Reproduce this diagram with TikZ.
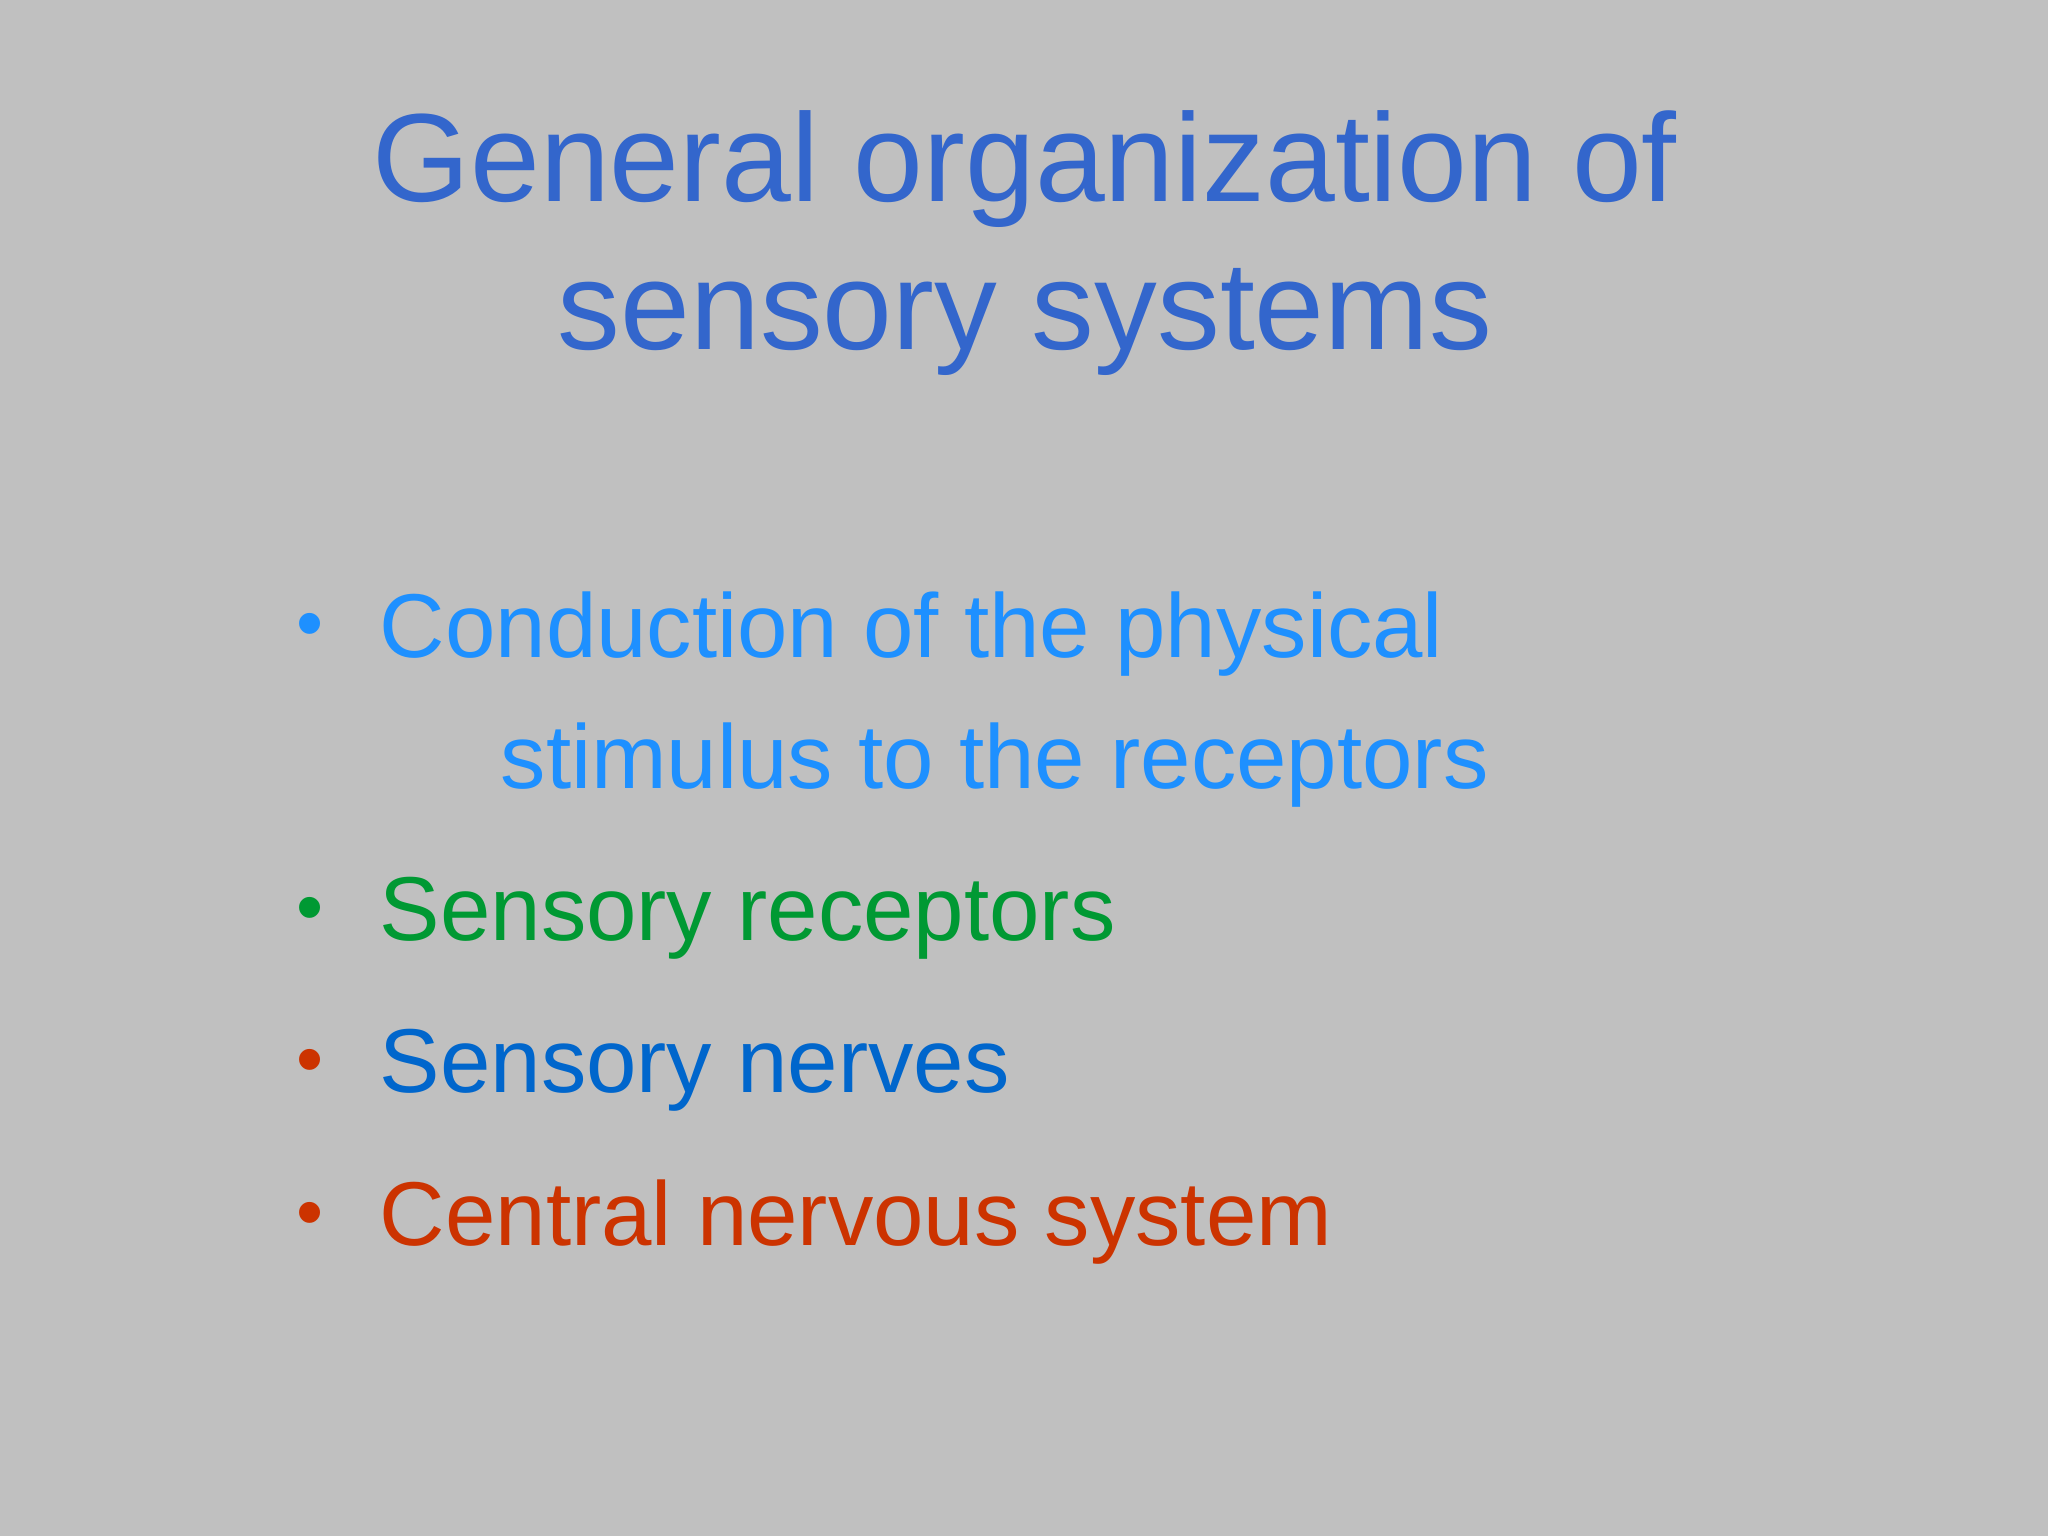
\documentclass[tikz,border=0pt]{standalone}
\usepackage{fontspec}
\setmainfont{Liberation Sans}
\definecolor{bg}{HTML}{C0C0C0}
\definecolor{titlec}{HTML}{3366CC}
\definecolor{lblue}{HTML}{1E90FF}
\definecolor{gr}{HTML}{009933}
\definecolor{dblue}{HTML}{0066CC}
\definecolor{rd}{HTML}{CC3300}
\begin{document}
\begin{tikzpicture}[
  title/.style={anchor=base,text=titlec,font=\fontsize{35.7}{42}\selectfont,inner sep=0},
  item/.style={anchor=base west,font=\fontsize{25.8}{30}\selectfont,inner sep=0},
  bul/.style={anchor=base,font=\fontsize{22}{26}\selectfont,inner sep=0}]
\fill[bg] (0,0) rectangle (20.48,-15.36);
\useasboundingbox (0,0) rectangle (20.48,-15.36);
\node[title] (t1) at (10.25,-2.02) {General organization of};
\node[title] (t2) at (10.25,-3.50) {sensory systems};
\node[bul,text=lblue] (b1) at (3.10,-6.50) {•};
\node[item,text=lblue] (i1) at (3.79,-6.57) {Conduction of the physical};
\node[item,text=lblue] (i1b) at (5.00,-7.88) {stimulus to the receptors};
\node[bul,text=gr] (b2) at (3.10,-9.33) {•};
\node[item,text=gr] (i2) at (3.79,-9.40) {Sensory receptors};
\node[bul,text=rd] (b3) at (3.10,-10.85) {•};
\node[item,text=dblue] (i3) at (3.79,-10.92) {Sensory nerves};
\node[bul,text=rd] (b4) at (3.10,-12.38) {•};
\node[item,text=rd] (i4) at (3.79,-12.45) {Central nervous system};
\end{tikzpicture}
\end{document}
